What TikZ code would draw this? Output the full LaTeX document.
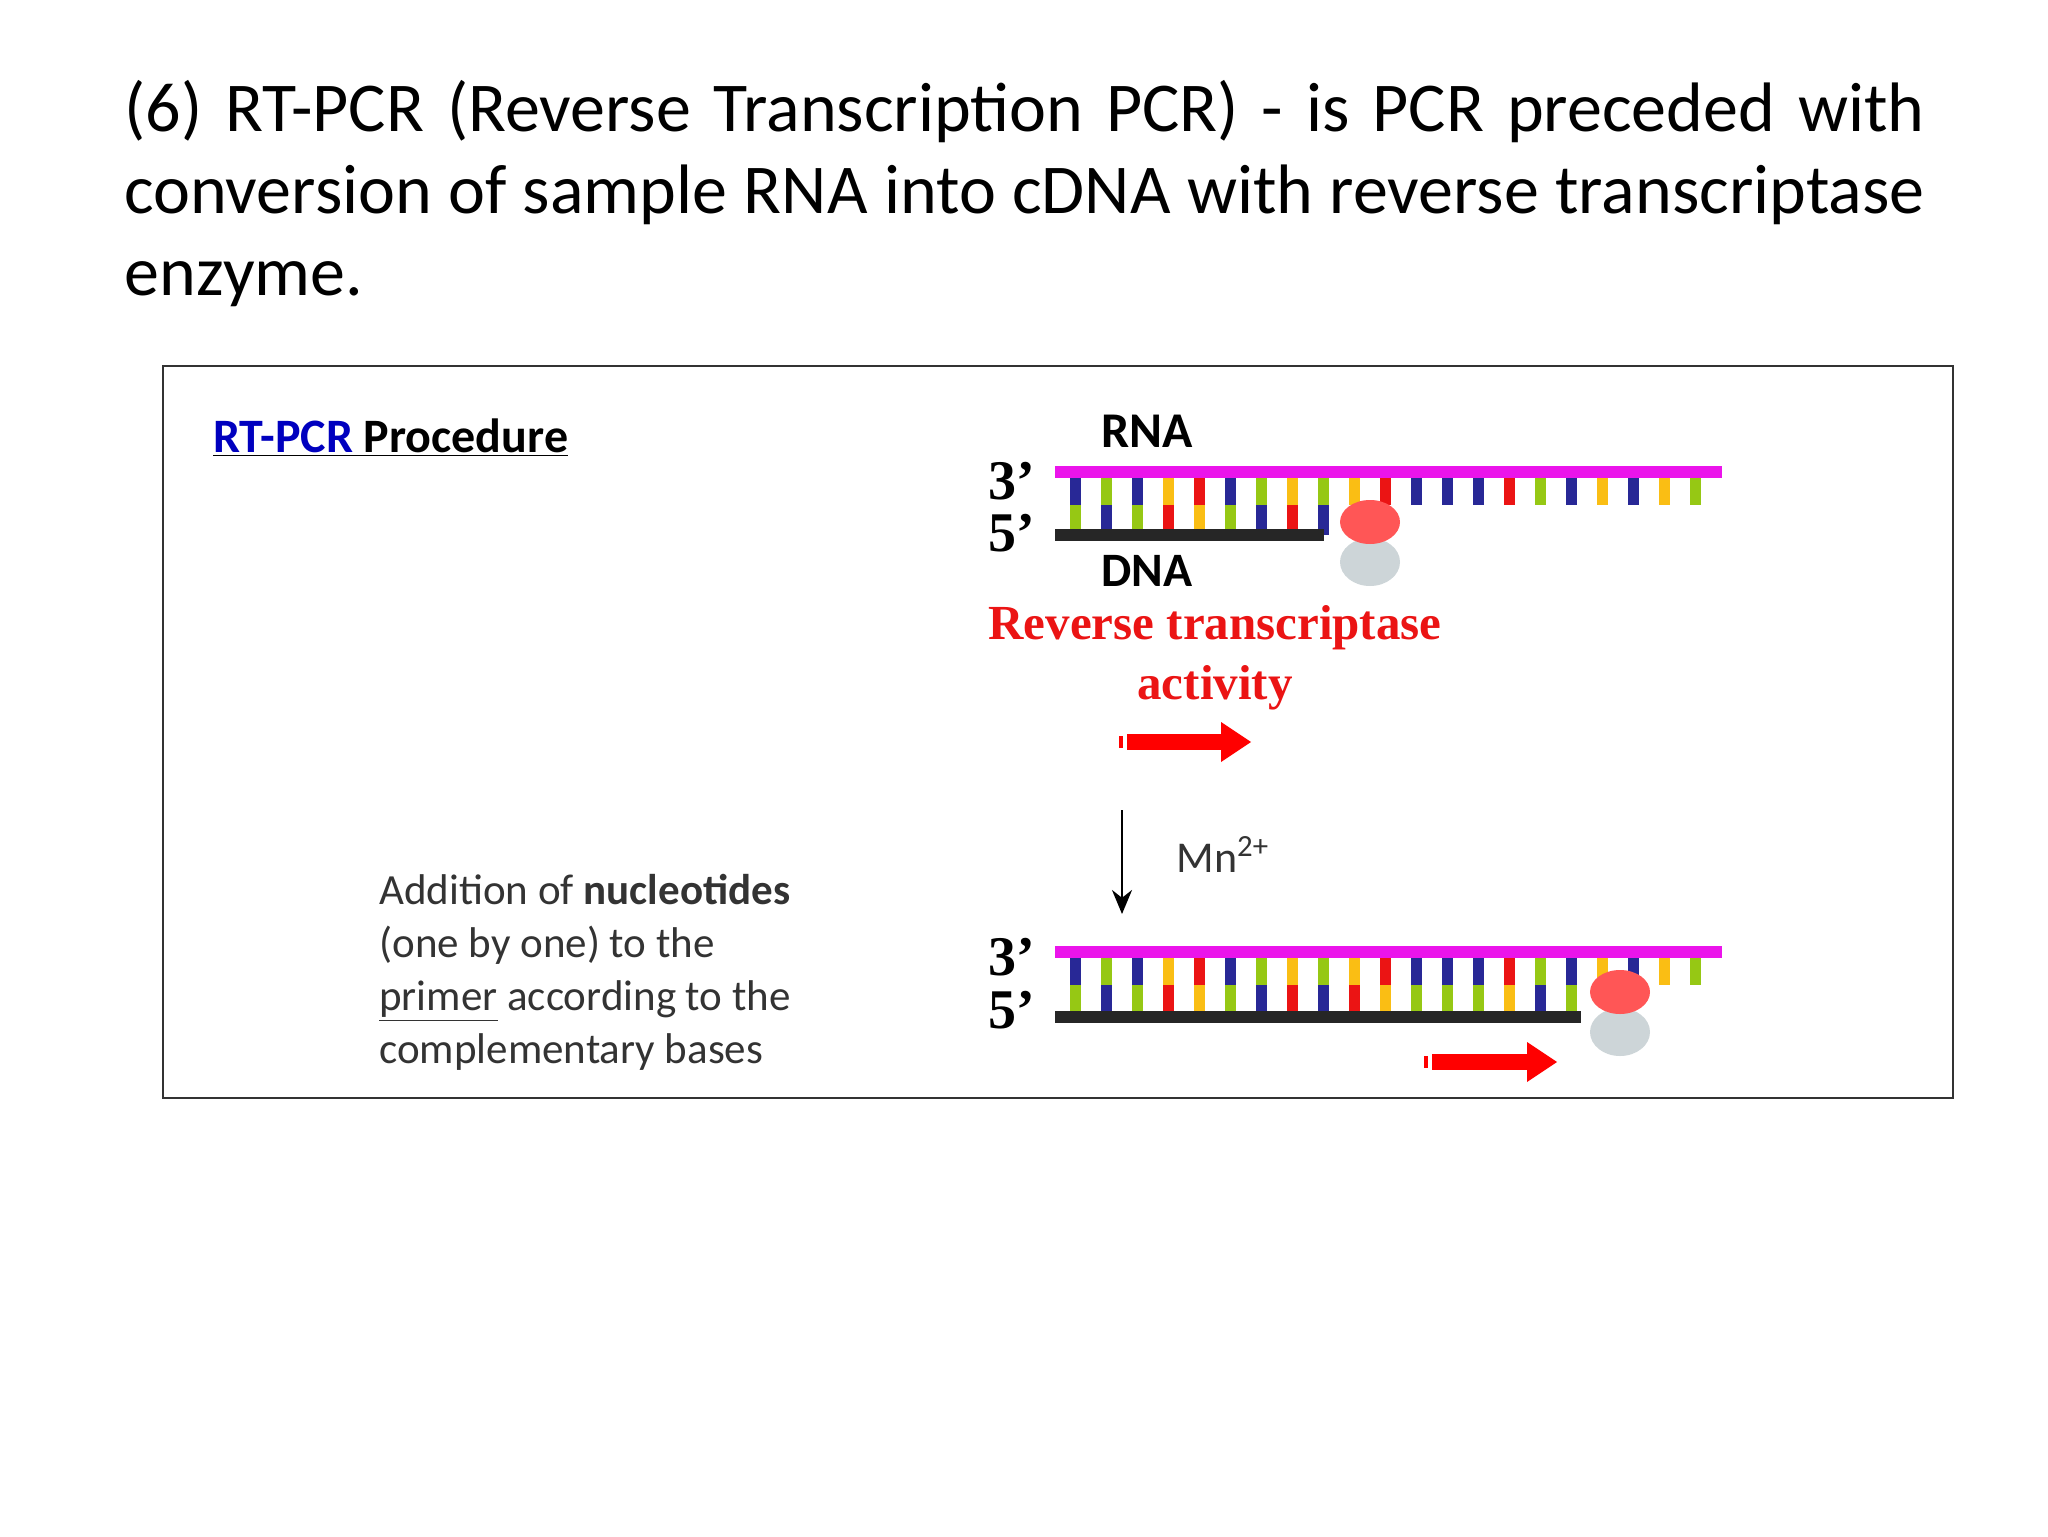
\documentclass[tikz,border=0pt]{standalone}
\usepackage{fontspec}
\usetikzlibrary{arrows.meta}
\setmainfont{Carlito}
\newfontfamily\serifb{Liberation Serif}
\begin{document}
\begin{tikzpicture}[x=0.5pt,y=-0.5pt,
  lbl/.style={inner sep=0pt,anchor=base west},
  primes/.style={inner sep=0pt,font=\serifb\bfseries\fontsize{28}{28}\selectfont},
  rung/.style={line width=5.5pt}]
\useasboundingbox (0,0) rectangle (2048,1536);
\fill[white] (0,0) rectangle (2048,1536);
% title
\node[lbl,text width=900pt,align=justify,anchor=north west,font=\fontsize{35}{41}\selectfont] (title) at (124,80)
 {\hyphenpenalty=10000 (6) RT-PCR (Reverse Transcription PCR) - is PCR preceded with conversion of sample RNA into cDNA with reverse transcriptase enzyme.};
\draw[line width=1.3pt,black!80] (163,366) rectangle (1953,1098);
\node[lbl,font=\bfseries\fontsize{24}{24}\selectfont] (head) at (213,452) {\underline{\textcolor{blue!75!black}{RT-PCR} Procedure}};
\node[lbl,anchor=north west,align=left,font=\fontsize{21.5}{26.5}\selectfont,text=black!80] (left) at (379,874)
 {Addition of \textbf{nucleotides}\\(one by one) to the\\\underline{primer} according to the\\complementary bases};
% colours
\definecolor{bb}{RGB}{40,40,150}\definecolor{gg}{RGB}{150,200,20}
\definecolor{yy}{RGB}{250,190,20}\definecolor{rr}{RGB}{235,20,20}
\definecolor{pk}{RGB}{235,20,235}
\def\seq{{"bb","gg","bb","yy","rr","bb","gg","yy","gg","yy","rr","bb","bb","bb","rr","gg","bb","yy","bb","yy","gg"}}
\def\cmp{{"gg","bb","gg","rr","yy","gg","bb","rr","bb","rr","yy","gg","gg","gg","yy","bb","gg","rr","gg","rr","bb"}}
% ladders
\foreach \i in {0,...,20}{
  \pgfmathsetmacro{\xx}{1075+\i*31}
  \pgfmathparse{\seq[\i]}\edef\ca{\pgfmathresult}
  \pgfmathparse{\cmp[\i]}\edef\cb{\pgfmathresult}
  \draw[\ca,rung] (\xx,472) -- (\xx,505);
  \ifnum\i<9 \draw[\cb,rung] (\xx,505) -- (\xx,535);\fi
  \draw[\ca,rung] (\xx,952) -- (\xx,985);
  \ifnum\i<17 \draw[\cb,rung] (\xx,985) -- (\xx,1017);\fi
}
\draw[pk,line width=6pt] (1055,472) -- (1722,472);
\draw[black!85,line width=6pt] (1055,535) -- (1324,535);
\draw[pk,line width=6pt] (1055,952) -- (1722,952);
\draw[black!85,line width=6pt] (1055,1017) -- (1581,1017);
% enzymes
\foreach \ex/\ey in {1370/522,1620/992}{
  \fill[cyan!15!gray!40] (\ex,\ey+40) ellipse (30 and 24);
  \fill[red!55!pink] (\ex,\ey) ellipse (30 and 22);
}
\node[primes] (t3) at (1012,481) {3’};
\node[primes] (t5) at (1012,533) {5’};
\node[primes] (b3) at (1012,957) {3’};
\node[primes] (b5) at (1012,1010) {5’};
\node[inner sep=0pt,font=\bfseries\fontsize{25}{25}\selectfont] (rna) at (1147,431) {RNA};
\node[inner sep=0pt,font=\bfseries\fontsize{24}{24}\selectfont] (dna) at (1147,571) {DNA};
\node[inner sep=0pt,align=center,text=rr,font=\serifb\bfseries\fontsize{24.5}{30}\selectfont] (rt) at (1215,658) {Reverse transcriptase\\activity};
% red arrows
\foreach \ax/\ay/\ln in {1119/742/132,1424/1062/133}{
  \fill[red] (\ax,\ay-6) rectangle (\ax+4,\ay+6);
  \fill[red] (\ax+8,\ay-8) rectangle (\ax+\ln-28,\ay+8);
  \fill[red] (\ax+\ln-30,\ay-20) -- (\ax+\ln,\ay) -- (\ax+\ln-30,\ay+20) -- cycle;
}
\coordinate (d1) at (1122,810); \coordinate (d2) at (1122,914);
\draw[-{Stealth[length=12pt,width=10pt]},line width=1.2pt] (d1) -- (d2);
\node[lbl,font=\fontsize{22}{22}\selectfont,text=black!80] (mn) at (1176,872) {Mn\textsuperscript{2+}};
\end{tikzpicture}
\end{document}
